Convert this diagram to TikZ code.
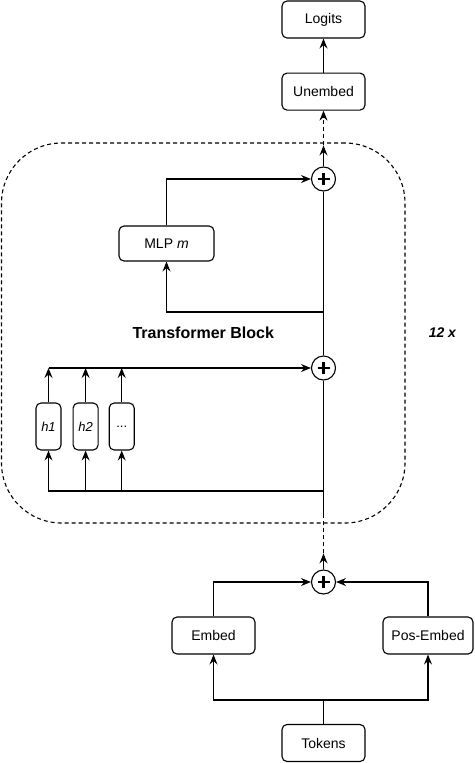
\documentclass[tikz,border=0pt]{standalone}
\usepackage{fontspec}
\setmainfont{Liberation Sans}
\usetikzlibrary{arrows.meta, calc, positioning}
\tikzstyle{block} = [rectangle, rounded corners=5pt, line width=1.1pt, minimum width=83pt, minimum height=37pt, inner sep=0pt, text centered, draw=black, font=\fontsize{14}{16}\selectfont]
\tikzstyle{head} = [block, minimum width=25pt, minimum height=47pt, font=\fontsize{13}{15}\selectfont\itshape]
\tikzstyle{sum} = [circle, line width=1.1pt, draw=black, minimum size=24pt, inner sep=0pt, path picture={\draw[line width=2.6pt] (path picture bounding box.center) ++(-6pt,0) -- ++(12pt,0) (path picture bounding box.center) ++(0,-6pt) -- ++(0,12pt);}]
\tikzstyle{arrow} = [line width=1.1pt,->,>={Stealth[length=10pt,width=8pt,inset=3.5pt]}]
\tikzstyle{dashline} = [line width=1.1pt, dash pattern=on 4pt off 3pt]

\begin{document}
\begin{tikzpicture}[x=1pt, y=-1pt]
		\useasboundingbox (0,0) rectangle (474,763);
		% repeated block
		\node (Block) [draw=black, dashline, rounded corners=60pt, minimum width=403.5, minimum height=380, inner sep=0pt, font=\fontsize{16}{18}\selectfont\bfseries] at (203.25,333) {Transformer Block};
		\node (Repeat) [right = 23pt of Block, inner sep=0pt, font=\fontsize{14}{16}\selectfont\bfseries\itshape] {12 x};
		% output side
		\node (Logits) [block] at (323.5,19.5) {Logits};
		\node (Unembed) [block, below = 34pt of Logits] {Unembed};
		\node (PlusTop) [sum] at (323.5,179) {};
		\node (MLP) [block, minimum width=95pt, minimum height=35pt] at (166.5,243.5) {MLP \textit{m}};
		\node (PlusMid) [sum] at (323.5,368) {};
		% attention heads
		\node (HeadOne) [head] at (48.5,426.5) {h1};
		\node (HeadTwo) [head, right = 11pt of HeadOne] {h2};
		\node (HeadDots) [head, right = 10pt of HeadTwo, font=\fontsize{13}{15}\selectfont] {...};
		% input side
		\node (PlusBottom) [sum] at (323.5,582) {};
		\node (Embed) [block] at (213.5,635.5) {Embed};
		\node (PosEmbed) [block, minimum width=90pt] at (428,635.5) {Pos-Embed};
		\node (Tokens) [block] at (323.5,743) {Tokens};
		\coordinate (BottomIn) at ($(PlusMid |- Block.south)+(0,-10)$);
		\coordinate (HeadsBase) at (323.5,491);
		\coordinate (MLPTap) at (323.5,312);
		\draw [arrow] (Tokens.north) -- ++(0,-24) -| (Embed.south);
		\draw [arrow] (Tokens.north) -- ++(0,-24) -| (PosEmbed.south);
		\draw [arrow] (Embed.north) |- (PlusBottom.west);
		\draw [arrow] (PosEmbed.north) |- (PlusBottom.east);
		\draw [arrow] (PlusBottom.north) -- ++(0,-16) coordinate (BottomTip);
		\draw [dashline] (BottomTip) -- (BottomIn);
		\draw [line width=1.1pt] (BottomIn) -- (PlusMid.south);
		\foreach \h in {HeadOne, HeadTwo, HeadDots} {
			\draw [arrow] (HeadsBase) -| (\h.south);
			\draw [arrow] (\h.north) -- (\h.north |- PlusMid.west);
		}
		\draw [arrow] (HeadOne.north |- PlusMid.west) -- (PlusMid.west);
		\draw [line width=1.1pt] (PlusMid.north) -- (PlusTop.south);
		\draw [arrow] (MLPTap) -| (MLP.south);
		\draw [arrow] (MLP.north) |- (PlusTop.west);
		\draw [arrow] (PlusTop.north) -- ++(0,-21) coordinate (TopTip);
		\draw [dashline, arrow] (TopTip) -- (Unembed.south);
		\draw [arrow] (Unembed.north) -- (Logits.south);
\end{tikzpicture}
\end{document}
